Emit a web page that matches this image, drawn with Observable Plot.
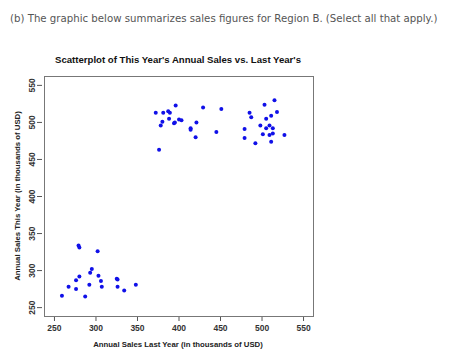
<!DOCTYPE html>
<html>
<head>
<meta charset="utf-8">
<script src="https://cdn.jsdelivr.net/npm/d3@7"></script>
<script src="https://cdn.jsdelivr.net/npm/@observablehq/plot@0.6"></script>
<style>
  html, body { margin: 0; padding: 0; background: #fff; }
  #wrap { position: relative; width: 474px; height: 363px; overflow: hidden; }
  #chart { position: absolute; left: 0; top: 0; }
  .t { position: absolute; white-space: nowrap; }
  #head { left: 10px; top: 13px; font: 10.2px "DejaVu Sans", sans-serif; color: #555; }
  #title { left: 178px; top: 54px; transform: translateX(-50%); font: bold 9.6px "Liberation Sans", Arial, sans-serif; color: #111; }
  #xlab { left: 178px; top: 340px; transform: translateX(-50%); font: bold 7.8px "Liberation Sans", Arial, sans-serif; color: #222; }
  #ylab { left: 17px; top: 196px; transform: translate(-50%, -50%) rotate(-90deg); font: bold 7.8px "Liberation Sans", Arial, sans-serif; color: #222; }
</style>
</head>
<body>
<div id="wrap">
  <div id="chart"></div>
  <div class="t" id="head">(b) The graphic below summarizes sales figures for Region B. (Select all that apply.)</div>
  <div class="t" id="title">Scatterplot of This Year's Annual Sales vs. Last Year's</div>
  <div class="t" id="xlab">Annual Sales Last Year (in thousands of USD)</div>
  <div class="t" id="ylab">Annual Sales This Year (in thousands of USD)</div>
</div>
<script>
const lastYear = [259, 267, 276, 276, 280, 279, 280, 287, 292, 295, 293, 302, 303, 306, 307, 325, 326, 326, 334, 348,
  372, 381, 387, 389, 396, 380, 378, 388, 394, 395, 400, 403, 414, 414, 421, 420, 429, 445, 451, 376,
  485, 487, 479, 479, 492, 498, 503, 505, 505, 501, 509, 509, 511, 513, 513, 515, 518, 511, 527];
const thisYear = [266, 278, 287, 275, 292, 334, 331, 265, 281, 302, 297, 326, 293, 286, 278, 289, 288, 278, 273, 281,
  513, 513, 515, 513, 523, 501, 496, 505, 499, 500, 504, 503, 492, 490, 500, 480, 520, 487, 518, 463,
  513, 507, 491, 479, 472, 496, 524, 492, 505, 484, 496, 483, 509, 492, 485, 530, 514, 474, 483];
const xTicks = [250, 300, 350, 400, 450, 500, 550];
const yTicks = [250, 300, 350, 400, 450, 500, 550];

const data = lastYear.map((x, i) => ({x, y: thisYear[i]}));

const chart = Plot.plot({
  width: 474,
  height: 363,
  marginLeft: 44,
  marginRight: 161,
  marginTop: 76,
  marginBottom: 47,
  style: {fontFamily: "'Liberation Sans', Arial, sans-serif", background: "transparent"},
  x: {domain: [238, 562]},
  y: {domain: [238, 562]},
  marks: [
    Plot.axisX({ticks: xTicks, tickSize: 5, tickPadding: 3, label: null, fontSize: 8.5, fontWeight: "bold", fill: "#333", stroke: "#555"}),
    Plot.axisY({ticks: yTicks, tickSize: 5, tickPadding: 3, tickRotate: -90, label: null, fontSize: 8.5, fontWeight: "bold", fill: "#333", stroke: "#555", textAnchor: "middle", dx: -2}),
    Plot.frame({stroke: "#777", strokeWidth: 1}),
    Plot.dot(data, {x: "x", y: "y", r: 2, fill: "#1010e8", stroke: null})
  ]
});
document.getElementById("chart").appendChild(chart);
</script>
</body>
</html>
